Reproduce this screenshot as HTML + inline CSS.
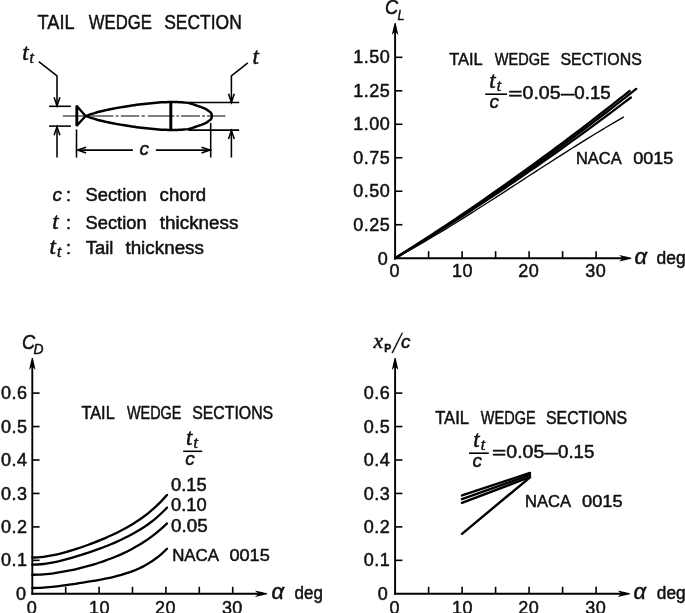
<!DOCTYPE html>
<html lang="en">
<head>
<meta charset="utf-8">
<title>Tail wedge section characteristics</title>
<style>html,body{margin:0;padding:0;background:#fff;}svg{display:block;}</style>
</head>
<body>
<svg width="685" height="613" viewBox="0 0 685 613" stroke="#000" fill="#111" style="display:block">
<rect x="0" y="0" width="685" height="613" fill="#fff" stroke="none"/>
<g stroke="#111" stroke-width="0.5" stroke-linejoin="round">
</g>
<g id="sketch">
<g stroke="#111" stroke-width="0.5" stroke-linejoin="round">
<text x="37.60" y="28.60" font-size="20.5" font-family='"Liberation Sans", sans-serif' textLength="37.00" lengthAdjust="spacingAndGlyphs">TAIL</text>
<text x="88.80" y="28.60" font-size="20.5" font-family='"Liberation Sans", sans-serif' textLength="63.00" lengthAdjust="spacingAndGlyphs">WEDGE</text>
<text x="164.20" y="28.60" font-size="20.5" font-family='"Liberation Sans", sans-serif' textLength="77.60" lengthAdjust="spacingAndGlyphs">SECTION</text>
<text x="22.30" y="59.80" font-size="23" font-family='"Liberation Serif", serif' font-style="italic">t</text>
<text x="29.60" y="62.90" font-size="16" font-family='"Liberation Serif", serif' font-style="italic">t</text>
<text x="252.60" y="63.80" font-size="23" font-family='"Liberation Serif", serif' font-style="italic">t</text>
<text x="139.50" y="154.60" font-size="19" font-family='"Liberation Sans", sans-serif' font-style="italic">c</text>
<text x="52.60" y="200.80" font-size="19" font-family='"Liberation Sans", sans-serif' font-style="italic">c</text>
<text x="66.00" y="200.80" font-size="18" font-family='"Liberation Sans", sans-serif'>:</text>
<text x="85.60" y="200.80" font-size="18" font-family='"Liberation Sans", sans-serif' textLength="61.00" lengthAdjust="spacingAndGlyphs">Section</text>
<text x="159.60" y="200.80" font-size="18" font-family='"Liberation Sans", sans-serif' textLength="46.60" lengthAdjust="spacingAndGlyphs">chord</text>
<text x="52.20" y="228.80" font-size="23" font-family='"Liberation Serif", serif' font-style="italic">t</text>
<text x="66.00" y="228.80" font-size="18" font-family='"Liberation Sans", sans-serif'>:</text>
<text x="85.60" y="228.80" font-size="18" font-family='"Liberation Sans", sans-serif' textLength="61.00" lengthAdjust="spacingAndGlyphs">Section</text>
<text x="159.80" y="228.80" font-size="18" font-family='"Liberation Sans", sans-serif' textLength="78.60" lengthAdjust="spacingAndGlyphs">thickness</text>
<text x="49.60" y="254.00" font-size="23" font-family='"Liberation Serif", serif' font-style="italic">t</text>
<text x="56.90" y="257.20" font-size="16" font-family='"Liberation Serif", serif' font-style="italic">t</text>
<text x="66.00" y="254.00" font-size="18" font-family='"Liberation Sans", sans-serif'>:</text>
<text x="85.80" y="254.00" font-size="18" font-family='"Liberation Sans", sans-serif' textLength="27.60" lengthAdjust="spacingAndGlyphs">Tail</text>
<text x="125.40" y="254.00" font-size="18" font-family='"Liberation Sans", sans-serif' textLength="78.60" lengthAdjust="spacingAndGlyphs">thickness</text>
</g>
<polyline points="38.80,61.60 57.00,75.80 57.00,105.60" fill="none" stroke-width="1.55" stroke-linejoin="miter" stroke-linecap="butt"/>
<polyline points="54.10,97.30 57.00,105.80 59.90,97.30" fill="none" stroke-width="1.55" stroke-linejoin="miter" stroke-linecap="butt"/>
<line x1="49.10" y1="106.30" x2="70.90" y2="106.30" stroke-width="1.55" stroke-linecap="butt"/>
<line x1="49.10" y1="126.10" x2="70.90" y2="126.10" stroke-width="1.55" stroke-linecap="butt"/>
<polyline points="59.90,135.30 57.00,126.80 54.10,135.30" fill="none" stroke-width="1.55" stroke-linejoin="miter" stroke-linecap="butt"/>
<line x1="57.00" y1="127.20" x2="57.00" y2="157.50" stroke-width="1.55" stroke-linecap="butt"/>
<line x1="62.8" y1="116.0" x2="225.4" y2="116.0" stroke-width="1.2" stroke-dasharray="21.2 2.2 3 2.2 22 2.2 3 2.2 18.5 2.2 3.3 3 26.5 2.2 2.4 2 19 2.1 3 2 18.4 50"/>
<polyline points="77.00,106.30 77.00,125.40 85.60,116.00 77.00,106.30 77.00,110.00" fill="none" stroke-width="2.3" stroke-linejoin="round" stroke-linecap="butt"/>
<line x1="76.80" y1="105.60" x2="76.80" y2="126.10" stroke-width="2.7" stroke-linecap="butt"/>
<line x1="76.50" y1="129.40" x2="76.50" y2="157.50" stroke-width="1.55" stroke-linecap="butt"/>
<line x1="210.70" y1="123.00" x2="210.70" y2="157.50" stroke-width="1.55" stroke-linecap="butt"/>
<line x1="78.00" y1="150.10" x2="132.90" y2="150.10" stroke-width="1.55" stroke-linecap="butt"/>
<polyline points="86.10,147.20 77.60,150.10 86.10,153.00" fill="none" stroke-width="1.55" stroke-linejoin="miter" stroke-linecap="butt"/>
<line x1="155.80" y1="150.10" x2="209.80" y2="150.10" stroke-width="1.55" stroke-linecap="butt"/>
<polyline points="201.50,153.00 210.00,150.10 201.50,147.20" fill="none" stroke-width="1.55" stroke-linejoin="miter" stroke-linecap="butt"/>
<path d="M85.90,116.00 L85.95,115.99 L86.09,115.95 L86.34,115.88 L86.68,115.77 L87.11,115.63 L87.64,115.45 L88.26,115.22 L88.98,114.94 L89.79,114.63 L90.69,114.29 L91.68,113.96 L92.76,113.66 L93.93,113.33 L95.18,112.92 L96.51,112.48 L97.92,112.06 L99.41,111.70 L100.98,111.32 L102.62,110.94 L104.34,110.54 L106.12,110.13 L107.97,109.72 L109.88,109.30 L111.85,108.90 L113.88,108.50 L115.96,108.11 L118.09,107.74 L120.27,107.37 L122.50,107.02 L124.76,106.66 L127.06,106.31 L129.40,105.95 L131.76,105.59 L134.15,105.22 L136.57,104.85 L139.00,104.50 L141.45,104.19 L143.91,103.91 L146.38,103.64 L148.85,103.40 L151.32,103.17 L153.79,102.95 L156.25,102.74 L158.70,102.53 L161.13,102.36 L163.55,102.23 L165.94,102.13 L168.30,102.06 L170.64,102.02 L172.94,102.00 L175.20,102.01 L177.43,102.06 L179.61,102.15 L181.74,102.28 L183.82,102.44 L185.85,102.63 L187.82,102.88 L189.73,103.28 L191.58,103.81 L193.36,104.41 L195.08,105.02 L196.72,105.62 L198.29,106.16 L199.78,106.66 L201.19,107.12 L202.52,107.59 L203.77,108.08 L204.94,108.60 L206.02,109.15 L207.01,109.75 L207.91,110.39 L208.72,111.02 L209.44,111.48 L210.06,111.91 L210.59,112.39 L211.02,112.98 L211.36,113.66 L211.61,114.40 L211.75,115.19 L211.80,116.00 L211.75,116.81 L211.61,117.60 L211.36,118.34 L211.02,119.02 L210.59,119.61 L210.06,120.09 L209.44,120.52 L208.72,120.98 L207.91,121.61 L207.01,122.25 L206.02,122.85 L204.94,123.40 L203.77,123.92 L202.52,124.41 L201.19,124.88 L199.78,125.34 L198.29,125.84 L196.72,126.38 L195.08,126.98 L193.36,127.59 L191.58,128.19 L189.73,128.72 L187.82,129.12 L185.85,129.37 L183.82,129.56 L181.74,129.72 L179.61,129.85 L177.43,129.94 L175.20,129.99 L172.94,130.00 L170.64,129.98 L168.30,129.94 L165.94,129.87 L163.55,129.77 L161.13,129.64 L158.70,129.47 L156.25,129.26 L153.79,129.05 L151.32,128.83 L148.85,128.60 L146.38,128.36 L143.91,128.09 L141.45,127.81 L139.00,127.50 L136.57,127.15 L134.15,126.78 L131.76,126.41 L129.40,126.05 L127.06,125.69 L124.76,125.34 L122.50,124.98 L120.27,124.63 L118.09,124.26 L115.96,123.89 L113.88,123.50 L111.85,123.10 L109.88,122.70 L107.97,122.28 L106.12,121.87 L104.34,121.46 L102.62,121.06 L100.98,120.68 L99.41,120.30 L97.92,119.94 L96.51,119.52 L95.18,119.08 L93.93,118.67 L92.76,118.34 L91.68,118.04 L90.69,117.71 L89.79,117.37 L88.98,117.06 L88.26,116.78 L87.64,116.55 L87.11,116.37 L86.68,116.23 L86.34,116.12 L86.09,116.05 L85.95,116.01 L85.90,116.00" fill="none" stroke-width="2.5" stroke-linejoin="round"/>
<line x1="170.80" y1="101.60" x2="170.80" y2="130.40" stroke-width="3.0" stroke-linecap="butt"/>
<line x1="188.20" y1="102.50" x2="239.20" y2="102.50" stroke-width="1.55" stroke-linecap="butt"/>
<line x1="188.20" y1="130.10" x2="239.20" y2="130.10" stroke-width="1.55" stroke-linecap="butt"/>
<polyline points="247.80,62.80 231.40,75.80 231.40,102.00" fill="none" stroke-width="1.55" stroke-linejoin="miter" stroke-linecap="butt"/>
<polyline points="228.50,93.80 231.40,102.30 234.30,93.80" fill="none" stroke-width="1.55" stroke-linejoin="miter" stroke-linecap="butt"/>
<polyline points="234.30,139.10 231.40,130.60 228.50,139.10" fill="none" stroke-width="1.55" stroke-linejoin="miter" stroke-linecap="butt"/>
<line x1="231.40" y1="131.00" x2="231.40" y2="157.50" stroke-width="1.55" stroke-linecap="butt"/>
</g>
<g id="cl">
<g stroke="#111" stroke-width="0.5" stroke-linejoin="round">
</g>
<g>
<line x1="395.10" y1="259.15" x2="395.10" y2="29.20" stroke-width="1.9" stroke-linecap="butt"/>
<polygon points="395.65,22.90 398.35,35.10 395.10,31.50 391.85,35.10 394.55,22.90" fill="#000" stroke="none"/>
<line x1="394.15" y1="258.20" x2="625.00" y2="258.20" stroke-width="1.9" stroke-linecap="butt"/>
<polygon points="631.30,258.75 619.10,261.45 622.70,258.20 619.10,254.95 631.30,257.65" fill="#000" stroke="none"/>
<line x1="395.10" y1="224.72" x2="402.40" y2="224.72" stroke-width="1.6" stroke-linecap="butt"/>
<line x1="395.10" y1="191.24" x2="402.40" y2="191.24" stroke-width="1.6" stroke-linecap="butt"/>
<line x1="395.10" y1="157.76" x2="402.40" y2="157.76" stroke-width="1.6" stroke-linecap="butt"/>
<line x1="395.10" y1="124.28" x2="402.40" y2="124.28" stroke-width="1.6" stroke-linecap="butt"/>
<line x1="395.10" y1="90.80" x2="402.40" y2="90.80" stroke-width="1.6" stroke-linecap="butt"/>
<line x1="395.10" y1="57.32" x2="402.40" y2="57.32" stroke-width="1.6" stroke-linecap="butt"/>
<line x1="428.60" y1="258.20" x2="428.60" y2="251.20" stroke-width="1.6" stroke-linecap="butt"/>
<line x1="462.10" y1="258.20" x2="462.10" y2="251.20" stroke-width="1.6" stroke-linecap="butt"/>
<line x1="495.60" y1="258.20" x2="495.60" y2="251.20" stroke-width="1.6" stroke-linecap="butt"/>
<line x1="529.10" y1="258.20" x2="529.10" y2="251.20" stroke-width="1.6" stroke-linecap="butt"/>
<line x1="562.60" y1="258.20" x2="562.60" y2="251.20" stroke-width="1.6" stroke-linecap="butt"/>
<line x1="596.10" y1="258.20" x2="596.10" y2="251.20" stroke-width="1.6" stroke-linecap="butt"/>
</g>
<g stroke="#111" stroke-width="0.5" stroke-linejoin="round">
<text x="388.10" y="264.85" font-size="18" font-family='"Liberation Sans", sans-serif' text-anchor="end" letter-spacing="0.45">0</text>
<text x="390.20" y="230.77" font-size="18" font-family='"Liberation Sans", sans-serif' text-anchor="end" letter-spacing="0.45">0.25</text>
<text x="390.20" y="197.29" font-size="18" font-family='"Liberation Sans", sans-serif' text-anchor="end" letter-spacing="0.45">0.50</text>
<text x="390.20" y="163.81" font-size="18" font-family='"Liberation Sans", sans-serif' text-anchor="end" letter-spacing="0.45">0.75</text>
<text x="390.20" y="130.33" font-size="18" font-family='"Liberation Sans", sans-serif' text-anchor="end" letter-spacing="0.45">1.00</text>
<text x="390.20" y="96.85" font-size="18" font-family='"Liberation Sans", sans-serif' text-anchor="end" letter-spacing="0.45">1.25</text>
<text x="390.20" y="63.37" font-size="18" font-family='"Liberation Sans", sans-serif' text-anchor="end" letter-spacing="0.45">1.50</text>
<text x="394.80" y="277.00" font-size="18" font-family='"Liberation Sans", sans-serif' text-anchor="middle" letter-spacing="0.4">0</text>
<text x="462.50" y="277.00" font-size="18" font-family='"Liberation Sans", sans-serif' text-anchor="middle" letter-spacing="0.4">10</text>
<text x="528.70" y="277.00" font-size="18" font-family='"Liberation Sans", sans-serif' text-anchor="middle" letter-spacing="0.4">20</text>
<text x="595.70" y="277.00" font-size="18" font-family='"Liberation Sans", sans-serif' text-anchor="middle" letter-spacing="0.4">30</text>
<text x="385.00" y="13.90" font-size="20" font-family='"Liberation Sans", sans-serif' font-style="italic" textLength="13.20" lengthAdjust="spacingAndGlyphs">C</text>
<text x="397.40" y="20.20" font-size="15" font-family='"Liberation Sans", sans-serif' font-style="italic" textLength="7.00" lengthAdjust="spacingAndGlyphs">L</text>
<text x="634.60" y="263.70" font-size="22" font-family='"Liberation Sans", sans-serif' font-style="italic">α</text>
<text x="656.60" y="263.70" font-size="17.5" font-family='"Liberation Sans", sans-serif' textLength="29.00" lengthAdjust="spacingAndGlyphs">deg</text>
<text x="449.20" y="64.70" font-size="17" font-family='"Liberation Sans", sans-serif' textLength="33.60" lengthAdjust="spacingAndGlyphs">TAIL</text>
<text x="494.80" y="64.70" font-size="17" font-family='"Liberation Sans", sans-serif' textLength="55.00" lengthAdjust="spacingAndGlyphs">WEDGE</text>
<text x="560.40" y="64.70" font-size="17" font-family='"Liberation Sans", sans-serif' textLength="81.40" lengthAdjust="spacingAndGlyphs">SECTIONS</text>
<text x="508.30" y="98.90" font-size="17" font-family='"Liberation Sans", sans-serif' textLength="14.20" lengthAdjust="spacingAndGlyphs">=</text>
<text x="522.60" y="98.90" font-size="17.5" font-family='"Liberation Sans", sans-serif' textLength="38.00" lengthAdjust="spacingAndGlyphs">0.05</text>
<text x="560.90" y="98.90" font-size="17.5" font-family='"Liberation Sans", sans-serif' textLength="13.40" lengthAdjust="spacingAndGlyphs">–</text>
<text x="574.30" y="98.90" font-size="17.5" font-family='"Liberation Sans", sans-serif' textLength="36.40" lengthAdjust="spacingAndGlyphs">0.15</text>
<text x="576.00" y="164.10" font-size="17" font-family='"Liberation Sans", sans-serif' textLength="45.60" lengthAdjust="spacingAndGlyphs">NACA</text>
<text x="633.20" y="164.10" font-size="17" font-family='"Liberation Sans", sans-serif' textLength="40.20" lengthAdjust="spacingAndGlyphs">0015</text>
<text x="489.30" y="88.20" font-size="23" font-family='"Liberation Serif", serif' font-style="italic">t</text>
<text x="496.70" y="91.40" font-size="16" font-family='"Liberation Serif", serif' font-style="italic">t</text>
<text x="489.60" y="107.60" font-size="19" font-family='"Liberation Sans", sans-serif' font-style="italic">c</text>
</g>
<line x1="485.20" y1="94.20" x2="507.00" y2="94.20" stroke-width="1.55" stroke-linecap="butt"/>
<path d="M395.10,258.20 C396.73,257.17 401.61,254.09 404.87,252.02 C408.13,249.95 411.38,247.87 414.64,245.77 C417.90,243.68 421.16,241.57 424.41,239.45 C427.67,237.34 430.93,235.21 434.18,233.07 C437.44,230.93 440.70,228.78 443.95,226.61 C447.21,224.45 450.47,222.28 453.73,220.09 C456.98,217.91 460.24,215.71 463.50,213.50 C466.75,211.29 470.01,209.07 473.27,206.84 C476.52,204.61 479.78,202.37 483.04,200.11 C486.29,197.86 489.55,195.59 492.81,193.31 C496.07,191.04 499.32,188.75 502.58,186.45 C505.84,184.15 509.09,181.84 512.35,179.51 C515.61,177.19 518.86,174.86 522.12,172.51 C525.38,170.17 528.63,167.81 531.89,165.44 C535.15,163.07 538.41,160.69 541.66,158.30 C544.92,155.91 548.18,153.51 551.43,151.09 C554.69,148.68 557.95,146.25 561.20,143.82 C564.46,141.38 567.72,138.93 570.98,136.47 C574.23,134.01 577.49,131.54 580.75,129.06 C584.00,126.57 587.26,124.08 590.52,121.57 C593.77,119.07 597.03,116.55 600.29,114.02 C603.54,111.49 606.80,108.95 610.06,106.40 C613.32,103.85 616.57,101.29 619.83,98.71 C623.09,96.14 627.97,92.25 629.60,90.96" fill="none" stroke-width="2.3" stroke-linecap="round" stroke-linejoin="round"/>
<path d="M395.10,258.20 C396.77,257.17 401.80,254.09 405.15,252.01 C408.49,249.93 411.84,247.85 415.19,245.75 C418.54,243.64 421.89,241.53 425.24,239.41 C428.59,237.28 431.93,235.14 435.28,232.99 C438.63,230.84 441.98,228.68 445.33,226.50 C448.68,224.32 452.03,222.14 455.38,219.93 C458.72,217.73 462.07,215.52 465.42,213.29 C468.77,211.07 472.12,208.83 475.47,206.58 C478.82,204.33 482.16,202.06 485.51,199.79 C488.86,197.51 492.21,195.22 495.56,192.92 C498.91,190.62 502.26,188.30 505.60,185.98 C508.95,183.65 512.30,181.31 515.65,178.96 C519.00,176.61 522.35,174.25 525.70,171.87 C529.04,169.49 532.39,167.10 535.74,164.70 C539.09,162.30 542.44,159.89 545.79,157.46 C549.14,155.03 552.48,152.59 555.83,150.14 C559.18,147.69 562.53,145.23 565.88,142.75 C569.23,140.27 572.58,137.78 575.93,135.28 C579.27,132.78 582.62,130.27 585.97,127.74 C589.32,125.21 592.67,122.67 596.02,120.12 C599.37,117.57 602.71,115.01 606.06,112.43 C609.41,109.85 612.76,107.26 616.11,104.66 C619.46,102.06 622.81,99.44 626.15,96.82 C629.50,94.19 634.53,90.22 636.20,88.90" fill="none" stroke-width="2.4" stroke-linecap="round" stroke-linejoin="round"/>
<path d="M395.10,258.20 C396.74,257.21 401.65,254.25 404.93,252.25 C408.20,250.26 411.48,248.26 414.75,246.24 C418.02,244.23 421.30,242.20 424.58,240.16 C427.85,238.13 431.13,236.08 434.40,234.02 C437.68,231.96 440.95,229.89 444.23,227.81 C447.50,225.73 450.78,223.64 454.05,221.54 C457.32,219.44 460.60,217.33 463.88,215.20 C467.15,213.08 470.43,210.94 473.70,208.80 C476.98,206.65 480.25,204.50 483.53,202.33 C486.80,200.16 490.08,197.99 493.35,195.80 C496.62,193.61 499.90,191.41 503.18,189.20 C506.45,186.99 509.73,184.77 513.00,182.54 C516.27,180.31 519.55,178.06 522.83,175.81 C526.10,173.55 529.38,171.29 532.65,169.02 C535.93,166.74 539.20,164.45 542.48,162.16 C545.75,159.86 549.03,157.55 552.30,155.23 C555.58,152.91 558.85,150.58 562.12,148.24 C565.40,145.90 568.68,143.55 571.95,141.19 C575.23,138.83 578.50,136.45 581.77,134.07 C585.05,131.69 588.33,129.29 591.60,126.89 C594.88,124.48 598.15,122.06 601.43,119.64 C604.70,117.21 607.98,114.77 611.25,112.32 C614.52,109.87 617.80,107.41 621.08,104.94 C624.35,102.47 629.26,98.74 630.90,97.50" fill="none" stroke-width="2.3" stroke-linecap="round" stroke-linejoin="round"/>
<path d="M395.10,258.20 C396.69,257.33 401.44,254.76 404.62,253.00 C407.79,251.24 410.96,249.46 414.13,247.65 C417.31,245.85 420.48,244.02 423.65,242.17 C426.82,240.32 429.99,238.45 433.17,236.56 C436.34,234.67 439.51,232.76 442.68,230.84 C445.86,228.91 449.03,226.97 452.20,225.02 C455.37,223.06 458.54,221.09 461.72,219.11 C464.89,217.12 468.06,215.13 471.23,213.12 C474.41,211.11 477.58,209.10 480.75,207.07 C483.92,205.05 487.09,203.01 490.27,200.97 C493.44,198.93 496.61,196.88 499.78,194.83 C502.96,192.78 506.13,190.73 509.30,188.67 C512.47,186.61 515.64,184.55 518.82,182.49 C521.99,180.43 525.16,178.37 528.33,176.31 C531.51,174.25 534.68,172.20 537.85,170.14 C541.02,168.09 544.19,166.04 547.37,164.00 C550.54,161.96 553.71,159.92 556.88,157.89 C560.06,155.86 563.23,153.84 566.40,151.83 C569.57,149.82 572.74,147.82 575.92,145.83 C579.09,143.84 582.26,141.86 585.43,139.90 C588.61,137.94 591.78,135.99 594.95,134.06 C598.12,132.12 601.29,130.21 604.47,128.31 C607.64,126.41 610.81,124.53 613.98,122.67 C617.16,120.82 621.91,118.08 623.50,117.16" fill="none" stroke-width="1.3" stroke-linecap="round" stroke-linejoin="round"/>
</g>
<g id="cd">
<line x1="32.30" y1="594.75" x2="32.30" y2="364.20" stroke-width="1.9" stroke-linecap="butt"/>
<polygon points="32.85,357.90 35.55,370.10 32.30,366.50 29.05,370.10 31.75,357.90" fill="#000" stroke="none"/>
<line x1="31.35" y1="593.80" x2="260.80" y2="593.80" stroke-width="1.9" stroke-linecap="butt"/>
<polygon points="267.10,594.35 254.90,597.05 258.50,593.80 254.90,590.55 267.10,593.25" fill="#000" stroke="none"/>
<line x1="32.30" y1="560.35" x2="39.60" y2="560.35" stroke-width="1.6" stroke-linecap="butt"/>
<line x1="32.30" y1="526.90" x2="39.60" y2="526.90" stroke-width="1.6" stroke-linecap="butt"/>
<line x1="32.30" y1="493.45" x2="39.60" y2="493.45" stroke-width="1.6" stroke-linecap="butt"/>
<line x1="32.30" y1="460.00" x2="39.60" y2="460.00" stroke-width="1.6" stroke-linecap="butt"/>
<line x1="32.30" y1="426.55" x2="39.60" y2="426.55" stroke-width="1.6" stroke-linecap="butt"/>
<line x1="32.30" y1="393.10" x2="39.60" y2="393.10" stroke-width="1.6" stroke-linecap="butt"/>
<line x1="65.70" y1="593.80" x2="65.70" y2="586.80" stroke-width="1.6" stroke-linecap="butt"/>
<line x1="99.10" y1="593.80" x2="99.10" y2="586.80" stroke-width="1.6" stroke-linecap="butt"/>
<line x1="132.50" y1="593.80" x2="132.50" y2="586.80" stroke-width="1.6" stroke-linecap="butt"/>
<line x1="165.90" y1="593.80" x2="165.90" y2="586.80" stroke-width="1.6" stroke-linecap="butt"/>
<line x1="199.30" y1="593.80" x2="199.30" y2="586.80" stroke-width="1.6" stroke-linecap="butt"/>
<line x1="232.70" y1="593.80" x2="232.70" y2="586.80" stroke-width="1.6" stroke-linecap="butt"/>
<g stroke="#111" stroke-width="0.5" stroke-linejoin="round">
<text x="26.40" y="600.35" font-size="18" font-family='"Liberation Sans", sans-serif' text-anchor="end" letter-spacing="0.45">0</text>
<text x="27.40" y="566.40" font-size="18" font-family='"Liberation Sans", sans-serif' text-anchor="end" letter-spacing="0.45">0.1</text>
<text x="27.40" y="532.95" font-size="18" font-family='"Liberation Sans", sans-serif' text-anchor="end" letter-spacing="0.45">0.2</text>
<text x="27.40" y="499.50" font-size="18" font-family='"Liberation Sans", sans-serif' text-anchor="end" letter-spacing="0.45">0.3</text>
<text x="27.40" y="466.05" font-size="18" font-family='"Liberation Sans", sans-serif' text-anchor="end" letter-spacing="0.45">0.4</text>
<text x="27.40" y="432.60" font-size="18" font-family='"Liberation Sans", sans-serif' text-anchor="end" letter-spacing="0.45">0.5</text>
<text x="27.40" y="399.15" font-size="18" font-family='"Liberation Sans", sans-serif' text-anchor="end" letter-spacing="0.45">0.6</text>
<text x="32.00" y="613.60" font-size="18" font-family='"Liberation Sans", sans-serif' text-anchor="middle" letter-spacing="0.4">0</text>
<text x="99.50" y="613.60" font-size="18" font-family='"Liberation Sans", sans-serif' text-anchor="middle" letter-spacing="0.4">10</text>
<text x="165.50" y="613.60" font-size="18" font-family='"Liberation Sans", sans-serif' text-anchor="middle" letter-spacing="0.4">20</text>
<text x="232.30" y="613.60" font-size="18" font-family='"Liberation Sans", sans-serif' text-anchor="middle" letter-spacing="0.4">30</text>
<text x="21.90" y="348.70" font-size="20" font-family='"Liberation Sans", sans-serif' font-style="italic" textLength="13.20" lengthAdjust="spacingAndGlyphs">C</text>
<text x="33.60" y="353.80" font-size="14.5" font-family='"Liberation Sans", sans-serif' font-style="italic" textLength="10.00" lengthAdjust="spacingAndGlyphs">D</text>
<text x="271.60" y="599.00" font-size="22" font-family='"Liberation Sans", sans-serif' font-style="italic">α</text>
<text x="294.60" y="599.00" font-size="17.5" font-family='"Liberation Sans", sans-serif' textLength="28.20" lengthAdjust="spacingAndGlyphs">deg</text>
<text x="81.40" y="418.80" font-size="17.5" font-family='"Liberation Sans", sans-serif' textLength="33.40" lengthAdjust="spacingAndGlyphs">TAIL</text>
<text x="127.00" y="418.80" font-size="17.5" font-family='"Liberation Sans", sans-serif' textLength="54.40" lengthAdjust="spacingAndGlyphs">WEDGE</text>
<text x="192.20" y="418.80" font-size="17.5" font-family='"Liberation Sans", sans-serif' textLength="81.00" lengthAdjust="spacingAndGlyphs">SECTIONS</text>
<text x="186.00" y="444.80" font-size="23" font-family='"Liberation Serif", serif' font-style="italic">t</text>
<text x="193.40" y="448.00" font-size="16" font-family='"Liberation Serif", serif' font-style="italic">t</text>
<text x="185.20" y="465.00" font-size="19" font-family='"Liberation Sans", sans-serif' font-style="italic">c</text>
<text x="171.00" y="490.70" font-size="18" font-family='"Liberation Sans", sans-serif' textLength="35.60" lengthAdjust="spacingAndGlyphs">0.15</text>
<text x="171.00" y="510.90" font-size="18" font-family='"Liberation Sans", sans-serif' textLength="35.60" lengthAdjust="spacingAndGlyphs">0.10</text>
<text x="171.00" y="531.80" font-size="18" font-family='"Liberation Sans", sans-serif' textLength="36.60" lengthAdjust="spacingAndGlyphs">0.05</text>
<text x="172.20" y="560.70" font-size="17" font-family='"Liberation Sans", sans-serif' textLength="46.80" lengthAdjust="spacingAndGlyphs">NACA</text>
<text x="229.40" y="560.70" font-size="17" font-family='"Liberation Sans", sans-serif' textLength="40.40" lengthAdjust="spacingAndGlyphs">0015</text>
</g>
<line x1="183.20" y1="451.30" x2="202.20" y2="451.30" stroke-width="1.55" stroke-linecap="butt"/>
<path d="M32.30,557.51 C33.24,557.48 36.04,557.44 37.91,557.32 C39.78,557.20 41.65,557.01 43.52,556.78 C45.40,556.55 47.27,556.26 49.14,555.94 C51.01,555.62 52.88,555.25 54.75,554.85 C56.62,554.46 58.49,554.02 60.36,553.55 C62.23,553.09 64.10,552.59 65.97,552.07 C67.85,551.55 69.72,551.00 71.59,550.43 C73.46,549.87 75.33,549.27 77.20,548.66 C79.07,548.05 80.94,547.42 82.81,546.77 C84.68,546.12 86.55,545.45 88.42,544.77 C90.30,544.08 92.17,543.38 94.04,542.65 C95.91,541.93 97.78,541.19 99.65,540.43 C101.52,539.66 103.39,538.88 105.26,538.07 C107.13,537.27 109.00,536.44 110.87,535.58 C112.75,534.72 114.62,533.84 116.49,532.93 C118.36,532.01 120.23,531.06 122.10,530.08 C123.97,529.09 125.84,528.07 127.71,527.00 C129.58,525.93 131.45,524.83 133.32,523.66 C135.20,522.50 137.07,521.29 138.94,520.01 C140.81,518.73 142.68,517.40 144.55,515.99 C146.42,514.57 148.29,513.10 150.16,511.54 C152.03,509.97 153.90,508.34 155.77,506.60 C157.65,504.86 159.52,503.04 161.39,501.10 C163.26,499.16 166.06,495.98 167.00,494.96" fill="none" stroke-width="2.3" stroke-linecap="round" stroke-linejoin="round"/>
<path d="M32.30,564.71 C33.24,564.68 36.04,564.64 37.91,564.52 C39.78,564.40 41.65,564.21 43.52,563.99 C45.40,563.76 47.27,563.48 49.14,563.17 C51.01,562.86 52.88,562.50 54.75,562.11 C56.62,561.73 58.49,561.30 60.36,560.85 C62.23,560.41 64.10,559.93 65.97,559.43 C67.85,558.93 69.72,558.41 71.59,557.87 C73.46,557.33 75.33,556.77 77.20,556.20 C79.07,555.62 80.94,555.03 82.81,554.43 C84.68,553.82 86.55,553.20 88.42,552.57 C90.30,551.93 92.17,551.28 94.04,550.62 C95.91,549.96 97.78,549.28 99.65,548.59 C101.52,547.89 103.39,547.19 105.26,546.46 C107.13,545.73 109.00,544.98 110.87,544.21 C112.75,543.44 114.62,542.65 116.49,541.83 C118.36,541.01 120.23,540.17 122.10,539.29 C123.97,538.41 125.84,537.50 127.71,536.55 C129.58,535.60 131.45,534.61 133.32,533.57 C135.20,532.53 137.07,531.46 138.94,530.31 C140.81,529.17 142.68,527.98 144.55,526.71 C146.42,525.45 148.29,524.13 150.16,522.72 C152.03,521.31 153.90,519.83 155.77,518.26 C157.65,516.68 159.52,515.03 161.39,513.26 C163.26,511.50 166.06,508.59 167.00,507.66" fill="none" stroke-width="2.3" stroke-linecap="round" stroke-linejoin="round"/>
<path d="M32.30,574.75 C33.24,574.73 36.04,574.71 37.91,574.63 C39.78,574.56 41.65,574.44 43.52,574.30 C45.40,574.15 47.27,573.97 49.14,573.77 C51.01,573.56 52.88,573.32 54.75,573.06 C56.62,572.80 58.49,572.51 60.36,572.20 C62.23,571.89 64.10,571.56 65.97,571.20 C67.85,570.85 69.72,570.47 71.59,570.07 C73.46,569.67 75.33,569.25 77.20,568.81 C79.07,568.37 80.94,567.91 82.81,567.43 C84.68,566.95 86.55,566.45 88.42,565.93 C90.30,565.40 92.17,564.86 94.04,564.30 C95.91,563.73 97.78,563.14 99.65,562.53 C101.52,561.92 103.39,561.29 105.26,560.62 C107.13,559.96 109.00,559.27 110.87,558.55 C112.75,557.84 114.62,557.09 116.49,556.31 C118.36,555.53 120.23,554.72 122.10,553.86 C123.97,553.01 125.84,552.13 127.71,551.20 C129.58,550.27 131.45,549.30 133.32,548.28 C135.20,547.26 137.07,546.20 138.94,545.08 C140.81,543.96 142.68,542.79 144.55,541.55 C146.42,540.32 148.29,539.04 150.16,537.68 C152.03,536.32 153.90,534.90 155.77,533.40 C157.65,531.89 159.52,530.33 161.39,528.67 C163.26,527.01 166.06,524.32 167.00,523.45" fill="none" stroke-width="2.3" stroke-linecap="round" stroke-linejoin="round"/>
<path d="M32.30,588.04 C33.24,588.02 36.04,588.00 37.91,587.92 C39.78,587.85 41.65,587.74 43.52,587.61 C45.40,587.48 47.27,587.31 49.14,587.14 C51.01,586.96 52.88,586.76 54.75,586.55 C56.62,586.34 58.49,586.10 60.36,585.87 C62.23,585.63 64.10,585.38 65.97,585.12 C67.85,584.86 69.72,584.60 71.59,584.33 C73.46,584.06 75.33,583.78 77.20,583.50 C79.07,583.21 80.94,582.93 82.81,582.63 C84.68,582.34 86.55,582.04 88.42,581.73 C90.30,581.42 92.17,581.11 94.04,580.79 C95.91,580.46 97.78,580.13 99.65,579.79 C101.52,579.44 103.39,579.08 105.26,578.70 C107.13,578.32 109.00,577.93 110.87,577.51 C112.75,577.09 114.62,576.65 116.49,576.17 C118.36,575.70 120.23,575.20 122.10,574.65 C123.97,574.10 125.84,573.53 127.71,572.90 C129.58,572.26 131.45,571.59 133.32,570.86 C135.20,570.12 137.07,569.33 138.94,568.47 C140.81,567.60 142.68,566.68 144.55,565.67 C146.42,564.65 148.29,563.57 150.16,562.38 C152.03,561.18 153.90,559.91 155.77,558.52 C157.65,557.12 159.52,555.63 161.39,554.01 C163.26,552.38 166.06,549.62 167.00,548.75" fill="none" stroke-width="2.3" stroke-linecap="round" stroke-linejoin="round"/>
</g>
<g id="xp">
<line x1="395.10" y1="594.75" x2="395.10" y2="364.20" stroke-width="1.9" stroke-linecap="butt"/>
<polygon points="395.65,357.90 398.35,370.10 395.10,366.50 391.85,370.10 394.55,357.90" fill="#000" stroke="none"/>
<line x1="394.15" y1="593.80" x2="623.60" y2="593.80" stroke-width="1.9" stroke-linecap="butt"/>
<polygon points="629.90,594.35 617.70,597.05 621.30,593.80 617.70,590.55 629.90,593.25" fill="#000" stroke="none"/>
<line x1="395.10" y1="560.35" x2="402.40" y2="560.35" stroke-width="1.6" stroke-linecap="butt"/>
<line x1="395.10" y1="526.90" x2="402.40" y2="526.90" stroke-width="1.6" stroke-linecap="butt"/>
<line x1="395.10" y1="493.45" x2="402.40" y2="493.45" stroke-width="1.6" stroke-linecap="butt"/>
<line x1="395.10" y1="460.00" x2="402.40" y2="460.00" stroke-width="1.6" stroke-linecap="butt"/>
<line x1="395.10" y1="426.55" x2="402.40" y2="426.55" stroke-width="1.6" stroke-linecap="butt"/>
<line x1="395.10" y1="393.10" x2="402.40" y2="393.10" stroke-width="1.6" stroke-linecap="butt"/>
<line x1="428.60" y1="593.80" x2="428.60" y2="586.80" stroke-width="1.6" stroke-linecap="butt"/>
<line x1="462.10" y1="593.80" x2="462.10" y2="586.80" stroke-width="1.6" stroke-linecap="butt"/>
<line x1="495.60" y1="593.80" x2="495.60" y2="586.80" stroke-width="1.6" stroke-linecap="butt"/>
<line x1="529.10" y1="593.80" x2="529.10" y2="586.80" stroke-width="1.6" stroke-linecap="butt"/>
<line x1="562.60" y1="593.80" x2="562.60" y2="586.80" stroke-width="1.6" stroke-linecap="butt"/>
<line x1="596.10" y1="593.80" x2="596.10" y2="586.80" stroke-width="1.6" stroke-linecap="butt"/>
<g stroke="#111" stroke-width="0.5" stroke-linejoin="round">
<text x="388.10" y="600.35" font-size="18" font-family='"Liberation Sans", sans-serif' text-anchor="end" letter-spacing="0.45">0</text>
<text x="390.20" y="566.40" font-size="18" font-family='"Liberation Sans", sans-serif' text-anchor="end" letter-spacing="0.45">0.1</text>
<text x="390.20" y="532.95" font-size="18" font-family='"Liberation Sans", sans-serif' text-anchor="end" letter-spacing="0.45">0.2</text>
<text x="390.20" y="499.50" font-size="18" font-family='"Liberation Sans", sans-serif' text-anchor="end" letter-spacing="0.45">0.3</text>
<text x="390.20" y="466.05" font-size="18" font-family='"Liberation Sans", sans-serif' text-anchor="end" letter-spacing="0.45">0.4</text>
<text x="390.20" y="432.60" font-size="18" font-family='"Liberation Sans", sans-serif' text-anchor="end" letter-spacing="0.45">0.5</text>
<text x="390.20" y="399.15" font-size="18" font-family='"Liberation Sans", sans-serif' text-anchor="end" letter-spacing="0.45">0.6</text>
<text x="394.80" y="613.60" font-size="18" font-family='"Liberation Sans", sans-serif' text-anchor="middle" letter-spacing="0.4">0</text>
<text x="462.50" y="613.60" font-size="18" font-family='"Liberation Sans", sans-serif' text-anchor="middle" letter-spacing="0.4">10</text>
<text x="528.70" y="613.60" font-size="18" font-family='"Liberation Sans", sans-serif' text-anchor="middle" letter-spacing="0.4">20</text>
<text x="595.70" y="613.60" font-size="18" font-family='"Liberation Sans", sans-serif' text-anchor="middle" letter-spacing="0.4">30</text>
<text x="373.40" y="348.00" font-size="21.5" font-family='"Liberation Serif", serif' font-style="italic">x</text>
<text x="384.30" y="351.60" font-size="10.5" font-family='"Liberation Sans", sans-serif' font-weight="bold">P</text>
<text transform="translate(391.0 353.0) skewX(-13) scale(1 1.0)" font-size="28.5" stroke="#fff" stroke-width="0.5" font-family='"Liberation Sans", sans-serif'>/</text>
<text x="401.00" y="348.00" font-size="19" font-family='"Liberation Sans", sans-serif' font-style="italic">c</text>
<text x="633.40" y="599.00" font-size="22" font-family='"Liberation Sans", sans-serif' font-style="italic">α</text>
<text x="656.80" y="599.00" font-size="17.5" font-family='"Liberation Sans", sans-serif' textLength="28.80" lengthAdjust="spacingAndGlyphs">deg</text>
<text x="435.20" y="424.10" font-size="17.5" font-family='"Liberation Sans", sans-serif' textLength="33.80" lengthAdjust="spacingAndGlyphs">TAIL</text>
<text x="480.80" y="424.10" font-size="17.5" font-family='"Liberation Sans", sans-serif' textLength="54.80" lengthAdjust="spacingAndGlyphs">WEDGE</text>
<text x="546.00" y="424.10" font-size="17.5" font-family='"Liberation Sans", sans-serif' textLength="81.00" lengthAdjust="spacingAndGlyphs">SECTIONS</text>
<text x="492.00" y="457.90" font-size="17" font-family='"Liberation Sans", sans-serif' textLength="14.20" lengthAdjust="spacingAndGlyphs">=</text>
<text x="506.30" y="457.90" font-size="17.5" font-family='"Liberation Sans", sans-serif' textLength="38.00" lengthAdjust="spacingAndGlyphs">0.05</text>
<text x="544.60" y="457.90" font-size="17.5" font-family='"Liberation Sans", sans-serif' textLength="13.40" lengthAdjust="spacingAndGlyphs">–</text>
<text x="558.00" y="457.90" font-size="17.5" font-family='"Liberation Sans", sans-serif' textLength="36.40" lengthAdjust="spacingAndGlyphs">0.15</text>
<text x="525.00" y="506.90" font-size="17" font-family='"Liberation Sans", sans-serif' textLength="46.00" lengthAdjust="spacingAndGlyphs">NACA</text>
<text x="582.00" y="506.90" font-size="17" font-family='"Liberation Sans", sans-serif' textLength="40.60" lengthAdjust="spacingAndGlyphs">0015</text>
<text x="473.30" y="446.70" font-size="23" font-family='"Liberation Serif", serif' font-style="italic">t</text>
<text x="480.70" y="449.90" font-size="16" font-family='"Liberation Serif", serif' font-style="italic">t</text>
<text x="472.40" y="466.90" font-size="19" font-family='"Liberation Sans", sans-serif' font-style="italic">c</text>
</g>
<line x1="469.00" y1="453.20" x2="488.80" y2="453.20" stroke-width="1.55" stroke-linecap="butt"/>
<line x1="462.00" y1="495.40" x2="530.00" y2="472.90" stroke-width="2.4" stroke-linecap="round"/>
<line x1="462.00" y1="499.20" x2="530.00" y2="474.80" stroke-width="2.4" stroke-linecap="round"/>
<line x1="462.00" y1="502.90" x2="530.00" y2="477.00" stroke-width="2.4" stroke-linecap="round"/>
<line x1="462.00" y1="533.80" x2="530.00" y2="477.30" stroke-width="2.4" stroke-linecap="round"/>
</g>
</svg>
</body>
</html>
